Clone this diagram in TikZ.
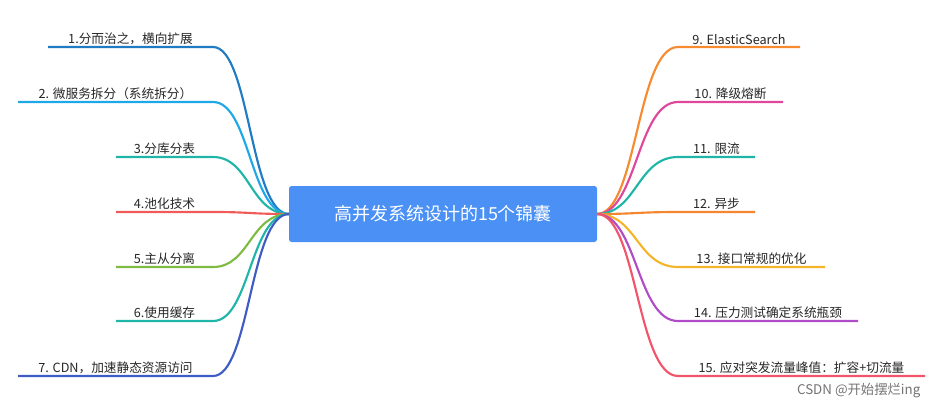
\documentclass[tikz,border=0pt]{standalone}
\usepackage{fontspec}
\usetikzlibrary{calc}
\setmainfont{Noto Sans CJK SC}
\begin{document}
\begin{tikzpicture}[x=0.75pt,y=-0.75pt,
  br/.style={line width=1.6pt},
  lab/.style={anchor=south,font=\fontsize{9.5}{11}\selectfont,inner sep=1.5pt,text=black!85}]
\useasboundingbox (0,0) rectangle (940,412);
\definecolor{c1}{HTML}{1F7CC4}\definecolor{c2}{HTML}{1EA8E8}\definecolor{c3}{HTML}{1FB5A8}
\definecolor{c4}{HTML}{F25A5A}\definecolor{c5}{HTML}{7DBB42}\definecolor{c6}{HTML}{1FB5A8}
\definecolor{c7}{HTML}{3F5BC4}\definecolor{c9}{HTML}{F58A2E}\definecolor{c10}{HTML}{E0479A}
\definecolor{c11}{HTML}{1FB5A8}\definecolor{c12}{HTML}{F5852E}\definecolor{c13}{HTML}{F5B52A}
\definecolor{c14}{HTML}{B04CC8}\definecolor{c15}{HTML}{F2546A}\definecolor{cbox}{HTML}{4A90F5}
\node[fill=cbox,rounded corners=2pt,minimum width=231pt,minimum height=42pt,text=white,font=\fontsize{13.5}{15}\selectfont] (c) at (443,214) {高并发系统设计的15个锦囊};
\coordinate (L) at (289,214); \coordinate (R) at (597,214);
\foreach \i/\y/\xs/\col/\t in {1/47/48/c1/{1.分而治之，横向扩展},2/102/18/c2/{2. 微服务拆分（系统拆分）},3/157/116/c3/{3.分库分表},4/212/116/c4/{4.池化技术},5/267/116/c5/{5.主从分离},6/321/116/c6/{6.使用缓存},7/376/18/c7/{7. CDN，加速静态资源访问}}{
  \coordinate (a\i) at (213,\y); \coordinate (s\i) at (\xs,\y);
  \draw[br,\col] (L) .. controls (250,214) and (250,\y) .. (a\i) -- (s\i);
  \node[lab] (t\i) at ($(a\i)!0.5!(s\i)$) {\t};
}
\foreach \i/\y/\xe/\col/\t in {9/47/800/c9/{9. ElasticSearch},10/102/783/c10/{10. 降级熔断},11/157/755/c11/{11. 限流},12/212/755/c12/{12. 异步},13/267/825/c13/{13. 接口常规的优化},14/321/858/c14/{14. 压力测试确定系统瓶颈},15/376/925/c15/{15. 应对突发流量峰值：扩容+切流量}}{
  \coordinate (b\i) at (678,\y); \coordinate (e\i) at (\xe,\y);
  \draw[br,\col] (R) .. controls (637,214) and (637,\y) .. (b\i) -- (e\i);
  \node[lab] (t\i) at ($(b\i)!0.5!(e\i)$) {\t};
}
\node[anchor=east,text=black!55,font=\fontsize{10}{12}\selectfont] (w) at (925,391) {CSDN @开始摆烂ing};
\end{tikzpicture}
\end{document}
